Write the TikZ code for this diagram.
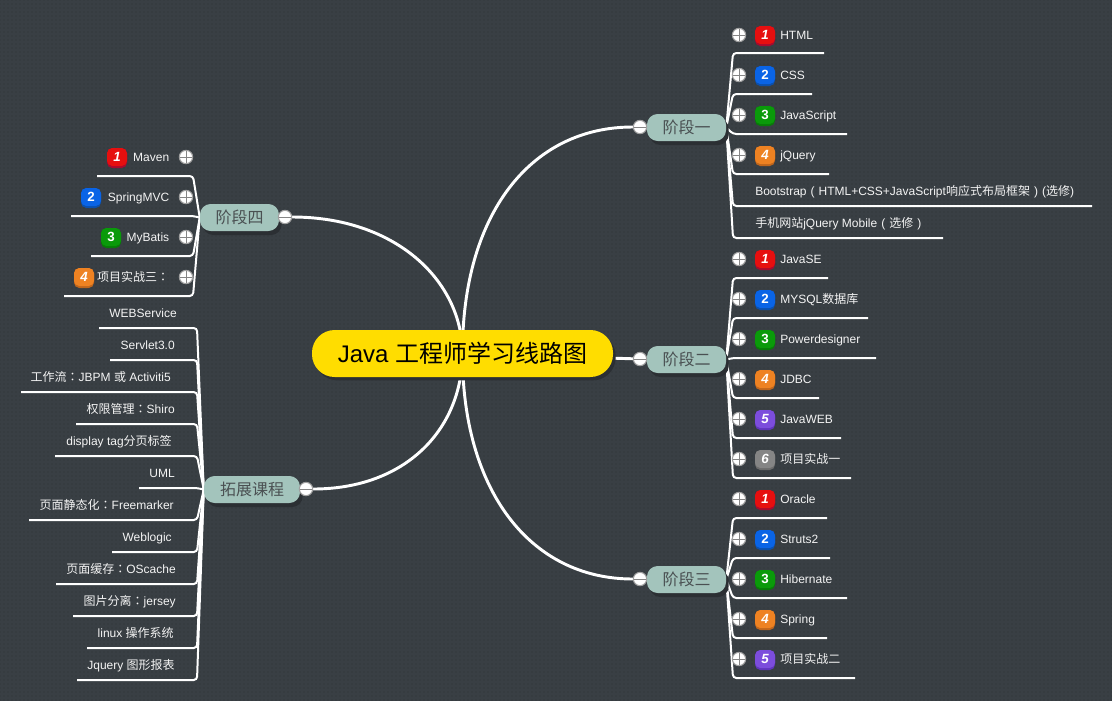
\documentclass[tikz,border=0pt]{standalone}
\usepackage{fontspec}
\setmainfont{Liberation Sans}
\newfontfamily\cjk{Noto Sans CJK SC}
\newfontfamily\cjktc{Noto Sans CJK TC}
\usetikzlibrary{shadows,backgrounds,patterns.meta}
\newcommand\zh[1]{{\cjk #1}}
\newcommand\cln{{\cjktc ：}}
\newcommand\lpar{\makebox[9pt][c]{(}}
\newcommand\rpar{\makebox[9pt][c]{)}}
\definecolor{bgc}{HTML}{393F44}
\definecolor{dotc}{HTML}{2E3337}
\definecolor{stagec}{HTML}{A3C4BC}
\definecolor{stagetxt}{HTML}{4A5052}
\definecolor{mainc}{HTML}{FFDD00}
\definecolor{shadowc}{HTML}{2B2F33}
\definecolor{itemtxt}{HTML}{F4F4F4}
\definecolor{iconring}{HTML}{A0A0A0}
\definecolor{iconmark}{HTML}{858585}
\definecolor{rT}{HTML}{E60F0F}\definecolor{rD}{HTML}{A80A2E}
\definecolor{bT}{HTML}{0A64E6}\definecolor{bD}{HTML}{0C50AC}
\definecolor{gT}{HTML}{0A9A0A}\definecolor{gD}{HTML}{087C08}
\definecolor{oT}{HTML}{EE8222}\definecolor{oD}{HTML}{C0661C}
\definecolor{pT}{HTML}{7C4DDC}\definecolor{pD}{HTML}{6036BC}
\definecolor{yT}{HTML}{858585}\definecolor{yD}{HTML}{6C6C6C}
\tikzset{
  x=0.75pt,y=-0.75pt,
  mainnode/.style={draw=none,fill=mainc,rounded corners=17pt,minimum width=225.75pt,minimum height=35.25pt,inner sep=0pt,font=\fontsize{18}{20}\selectfont,text=black,copy shadow={shadow xshift=2pt,shadow yshift=-2.5pt,fill=shadowc,draw=none}},
  stagenode/.style={draw=none,fill=stagec,rounded corners=8pt,minimum height=20.25pt,inner sep=0pt,font=\cjk\fontsize{12}{14}\selectfont,text=stagetxt,copy shadow={shadow xshift=2pt,shadow yshift=-3pt,fill=shadowc,draw=none}},
  itemtext/.style={inner sep=0pt,text=itemtxt,font=\fontsize{9}{11}\selectfont,text height=7pt,text depth=2pt},
  icon/.style={circle,draw=iconring,line width=0.8pt,fill=white,minimum size=10pt,inner sep=0pt},
  iconbar/.style={draw=iconmark,line width=0.7pt},
  badge/.style={rounded corners=4pt,minimum width=15pt,minimum height=13.5pt,inner sep=0pt,text=white,font=\fontsize{10}{11}\selectfont\bfseries},
  bigline/.style={draw=white,line width=2.2pt},
  itemline/.style={draw=white,line width=1.5pt,rounded corners=2.5pt},
}
% icons
\newcommand\plusicon[3]{\node[icon] (#1) at (#2,#3) {};
  \draw[iconbar] ([xshift=-4.6pt]#1.center) -- ([xshift=4.6pt]#1.center);
  \draw[iconbar] ([yshift=-4.6pt]#1.center) -- ([yshift=4.6pt]#1.center);}
\newcommand\minusicon[3]{\node[icon] (#1) at (#2,#3) {};
  \draw[iconbar] ([xshift=-4.6pt]#1.center) -- ([xshift=4.6pt]#1.center);}
% badge: name, x, y, colour letter, number text
\newcommand\badgeicon[5]{\fill[#4D,rounded corners=4pt] (#2-10,#3-9) rectangle (#2+10,#3+11);
  \node[badge,fill=#4T] (#1) at (#2,#3) {#5};}
% right-hand item: name, hub, text y, line y, line end x, colour, number, text
\newcommand\ritem[8]{\plusicon{#1p}{739}{#3}\badgeicon{#1b}{765}{#3}{#6}{#7}
  \node[itemtext,anchor=west] (#1) at (780,#3+1) {#8};
  \coordinate (#1k) at (733,#4); \coordinate (#1e) at (#5,#4);
  \begin{scope}[on background layer]\draw[itemline] (#2.east) -- (#1k) -- (#1e);\end{scope}}
\newcommand\rplain[6]{\node[itemtext,anchor=west] (#1) at (755,#3+1) {#6};
  \coordinate (#1k) at (733,#4); \coordinate (#1e) at (#5,#4);
  \begin{scope}[on background layer]\draw[itemline] (#2.east) -- (#1k) -- (#1e);\end{scope}}
% left item with badge: name, hub, y, line y, left end, badge x, colour, number, text
\newcommand\litem[9]{\plusicon{#1p}{186}{#3}\badgeicon{#1b}{#6}{#3}{#7}{#8}
  \node[itemtext,anchor=east] (#1) at (169.5,#3+1) {#9};
  \coordinate (#1k) at (193,#4); \coordinate (#1e) at (#5,#4);
  \begin{scope}[on background layer]\draw[itemline] (#2.west) -- (#1k) -- (#1e);\end{scope}}
% extension item: name, y of line, left end, text right x, text
\newcommand\eitem[5]{\node[itemtext,anchor=east] (#1) at (#4,#2-14) {#5};
  \coordinate (#1k) at (197,#2); \coordinate (#1e) at (#3,#2);
  \begin{scope}[on background layer]\draw[itemline] (ext.west) -- (#1k) -- (#1e);\end{scope}}
\begin{document}
\begin{tikzpicture}
\useasboundingbox (0,0) rectangle (1112,700);
\begin{scope}[on background layer]
  \fill[bgc] (-3,-3) rectangle (1115,703);
  \fill[pattern={Dots[distance=3pt,radius=0.45pt]},pattern color=dotc] (-3,-3) rectangle (1115,703);
\end{scope}
\node[mainnode] (main) at (462.5,353.5) {Java \zh{工程师学习线路图}};
\node[stagenode,minimum width=59.25pt] (s1) at (686.5,127.5) {阶段一};
\node[stagenode,minimum width=59.25pt] (s2) at (686.5,359.5) {阶段二};
\node[stagenode,minimum width=59.25pt] (s3) at (686.5,579.5) {阶段三};
\node[stagenode,minimum width=59.25pt] (s4) at (239.5,217.5) {阶段四};
\node[stagenode,minimum width=72pt] (ext) at (252,489.5) {拓展课程};
\minusicon{m1}{640}{127}
\minusicon{m2}{640}{359}
\minusicon{m3}{640}{579}
\minusicon{m4}{285}{217}
\minusicon{m5}{306}{489}
\begin{scope}[on background layer]
  \draw[bigline] (main.center) .. controls (462,215) and (530,127) .. (m1);
  \draw[bigline] (main.center) -- (m2);
  \draw[bigline] (main.center) .. controls (462,490) and (530,579) .. (m3);
  \draw[bigline] (main.center) .. controls (462,280) and (395,217) .. (m4);
  \draw[bigline] (main.center) .. controls (462,430) and (405,489) .. (m5);
\end{scope}
% stage one
\ritem{a}{s1}{35}{53}{824}{r}{\itshape 1}{HTML}
\ritem{b}{s1}{75}{94}{812}{b}{2}{CSS}
\ritem{c}{s1}{115}{134}{847}{g}{3}{JavaScript}
\ritem{d}{s1}{155}{174}{829}{o}{\itshape 4}{jQuery}
\rplain{e}{s1}{191}{206}{1092}{Bootstrap\lpar HTML+CSS+JavaScript\zh{响应式布局框架}\rpar(\zh{选修})}
\rplain{f}{s1}{223}{238}{943}{\zh{手机网站}jQuery Mobile\lpar\zh{选修}\rpar}
% stage two
\ritem{g}{s2}{259}{278}{828}{r}{\itshape 1}{JavaSE}
\ritem{h}{s2}{299}{318}{868}{b}{2}{MYSQL\zh{数据库}}
\ritem{i}{s2}{339}{358}{876}{g}{3}{Powerdesigner}
\ritem{j}{s2}{379}{398}{819}{o}{\itshape 4}{JDBC}
\ritem{k}{s2}{419}{438}{841}{p}{\itshape 5}{JavaWEB}
\ritem{l}{s2}{459}{478}{851}{y}{\itshape 6}{\zh{项目实战一}}
% stage three
\ritem{m}{s3}{499}{518}{827}{r}{\itshape 1}{Oracle}
\ritem{n}{s3}{539}{558}{830}{b}{2}{Struts2}
\ritem{o}{s3}{579}{598}{847}{g}{3}{Hibernate}
\ritem{q}{s3}{619}{638}{827}{o}{\itshape 4}{Spring}
\ritem{r}{s3}{659}{678}{855}{p}{\itshape 5}{\zh{项目实战二}}
% stage four
\litem{t}{s4}{157}{176}{97}{117}{r}{\itshape 1}{Maven}
\litem{u}{s4}{197}{216}{71}{91}{b}{2}{SpringMVC}
\litem{v}{s4}{237}{256}{91}{111}{g}{3}{MyBatis}
\litem{w}{s4}{277}{296}{64}{84}{o}{\itshape 4}{\zh{项目实战三}\cln}
% extension
\eitem{x1}{328}{99}{177}{WEBService}
\eitem{x2}{360}{110}{175}{Servlet3.0}
\eitem{x3}{392}{21}{171}{\zh{工作流}\cln JBPM \zh{或} Activiti5}
\eitem{x4}{424}{76}{175}{\zh{权限管理}\cln Shiro}
\eitem{x5}{456}{55}{172}{display tag\zh{分页标签}}
\eitem{x6}{488}{139}{175}{UML}
\eitem{x7}{520}{29}{174}{\zh{页面静态化}\cln Freemarker}
\eitem{x8}{552}{112}{172}{Weblogic}
\eitem{x9}{584}{56}{176}{\zh{页面缓存}\cln OScache}
\eitem{x10}{616}{73}{176}{\zh{图片分离}\cln jersey}
\eitem{x11}{648}{87}{174}{linux \zh{操作系统}}
\eitem{x12}{680}{77}{175}{Jquery \zh{图形报表}}
\end{tikzpicture}
\end{document}
